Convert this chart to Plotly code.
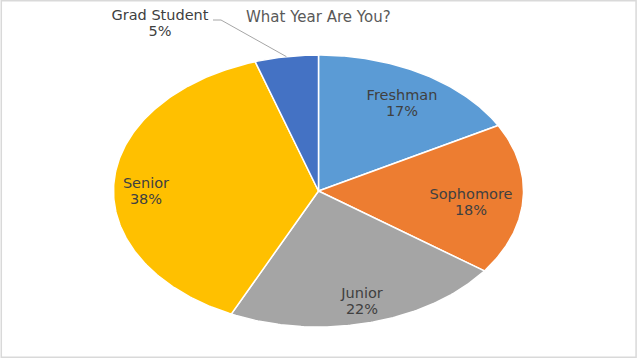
import numpy as np
import plotly.graph_objects as go

# ---- data ----
categories = ["Freshman", "Sophomore", "Junior", "Senior", "Grad Student"]
values = [17, 18, 22, 38, 5]
colors = ["#5B9BD5", "#ED7D31", "#A5A5A5", "#FFC000", "#4472C4"]
title_text = "What Year Are You?"

# ---- geometry (pixel-like data space) ----
W, H = 638, 359
cx, cy = 318.5, 191
rx, ry = 205, 136

# label centre positions (layout, pixel space)
label_xy = [(402, 104.5), (471, 203.5), (362, 302.5), (146, 192.5), (160, 24.5)]
line_gap = 15.5

fig = go.Figure()

total = sum(values)
cum = np.cumsum([0] + values) / total
for i, (cat, v, col) in enumerate(zip(categories, values, colors)):
    a0, a1 = cum[i] * 2 * np.pi, cum[i + 1] * 2 * np.pi
    t = np.linspace(a0, a1, max(int((a1 - a0) * 80), 4))
    xs = np.concatenate([[cx], cx + rx * np.sin(t), [cx]])
    ys = np.concatenate([[cy], cy - ry * np.cos(t), [cy]])
    fig.add_trace(go.Scatter(
        x=xs, y=ys, mode="lines", fill="toself", fillcolor=col,
        line=dict(color="white", width=1.5), hoverinfo="skip",
        showlegend=False,
    ))

font = dict(family="DejaVu Sans", size=14.5, color="#404040")

# labels
lx, ly, ltxt = [], [], []
for i, (cat, v) in enumerate(zip(categories, values)):
    pct = f"{round(100 * v / total)}%"
    x, y = label_xy[i]
    lx += [x, x]
    ly += [y - line_gap / 2, y + line_gap / 2]
    ltxt += [cat, pct]

fig.add_trace(go.Scatter(
    x=lx, y=ly, text=ltxt, mode="text", textfont=font,
    textposition="middle center", hoverinfo="skip", showlegend=False,
))

# leader line for Grad Student
gi = 4
gmid = (cum[gi] + cum[gi + 1]) * np.pi
ex, ey = cx + rx * np.sin(gmid), cy - ry * np.cos(gmid)
fig.add_trace(go.Scatter(
    x=[213, 221, ex], y=[20, 20, ey], mode="lines",
    line=dict(color="#A6A6A6", width=1), hoverinfo="skip", showlegend=False,
))

fig.add_annotation(
    x=318, y=17, text=title_text, showarrow=False,
    font=dict(family="DejaVu Sans", size=15, color="#595959"),
    xref="x", yref="y",
)

fig.add_shape(type="rect", xref="paper", yref="paper", x0=0.002, y0=0.005,
              x1=0.997, y1=0.998, line=dict(color="#D9D9D9", width=1.5))

fig.update_xaxes(range=[0, W], visible=False, fixedrange=True)
fig.update_yaxes(range=[H, 0], visible=False, fixedrange=True)
fig.update_layout(
    width=W, height=H, margin=dict(l=0, r=0, t=0, b=0),
    paper_bgcolor="white", plot_bgcolor="white",
)

fig.write_html(
    "out.html",
    config={"displayModeBar": False, "staticPlot": True},
    post_script="document.body.style.margin='0';document.body.style.overflow='hidden';",
)
